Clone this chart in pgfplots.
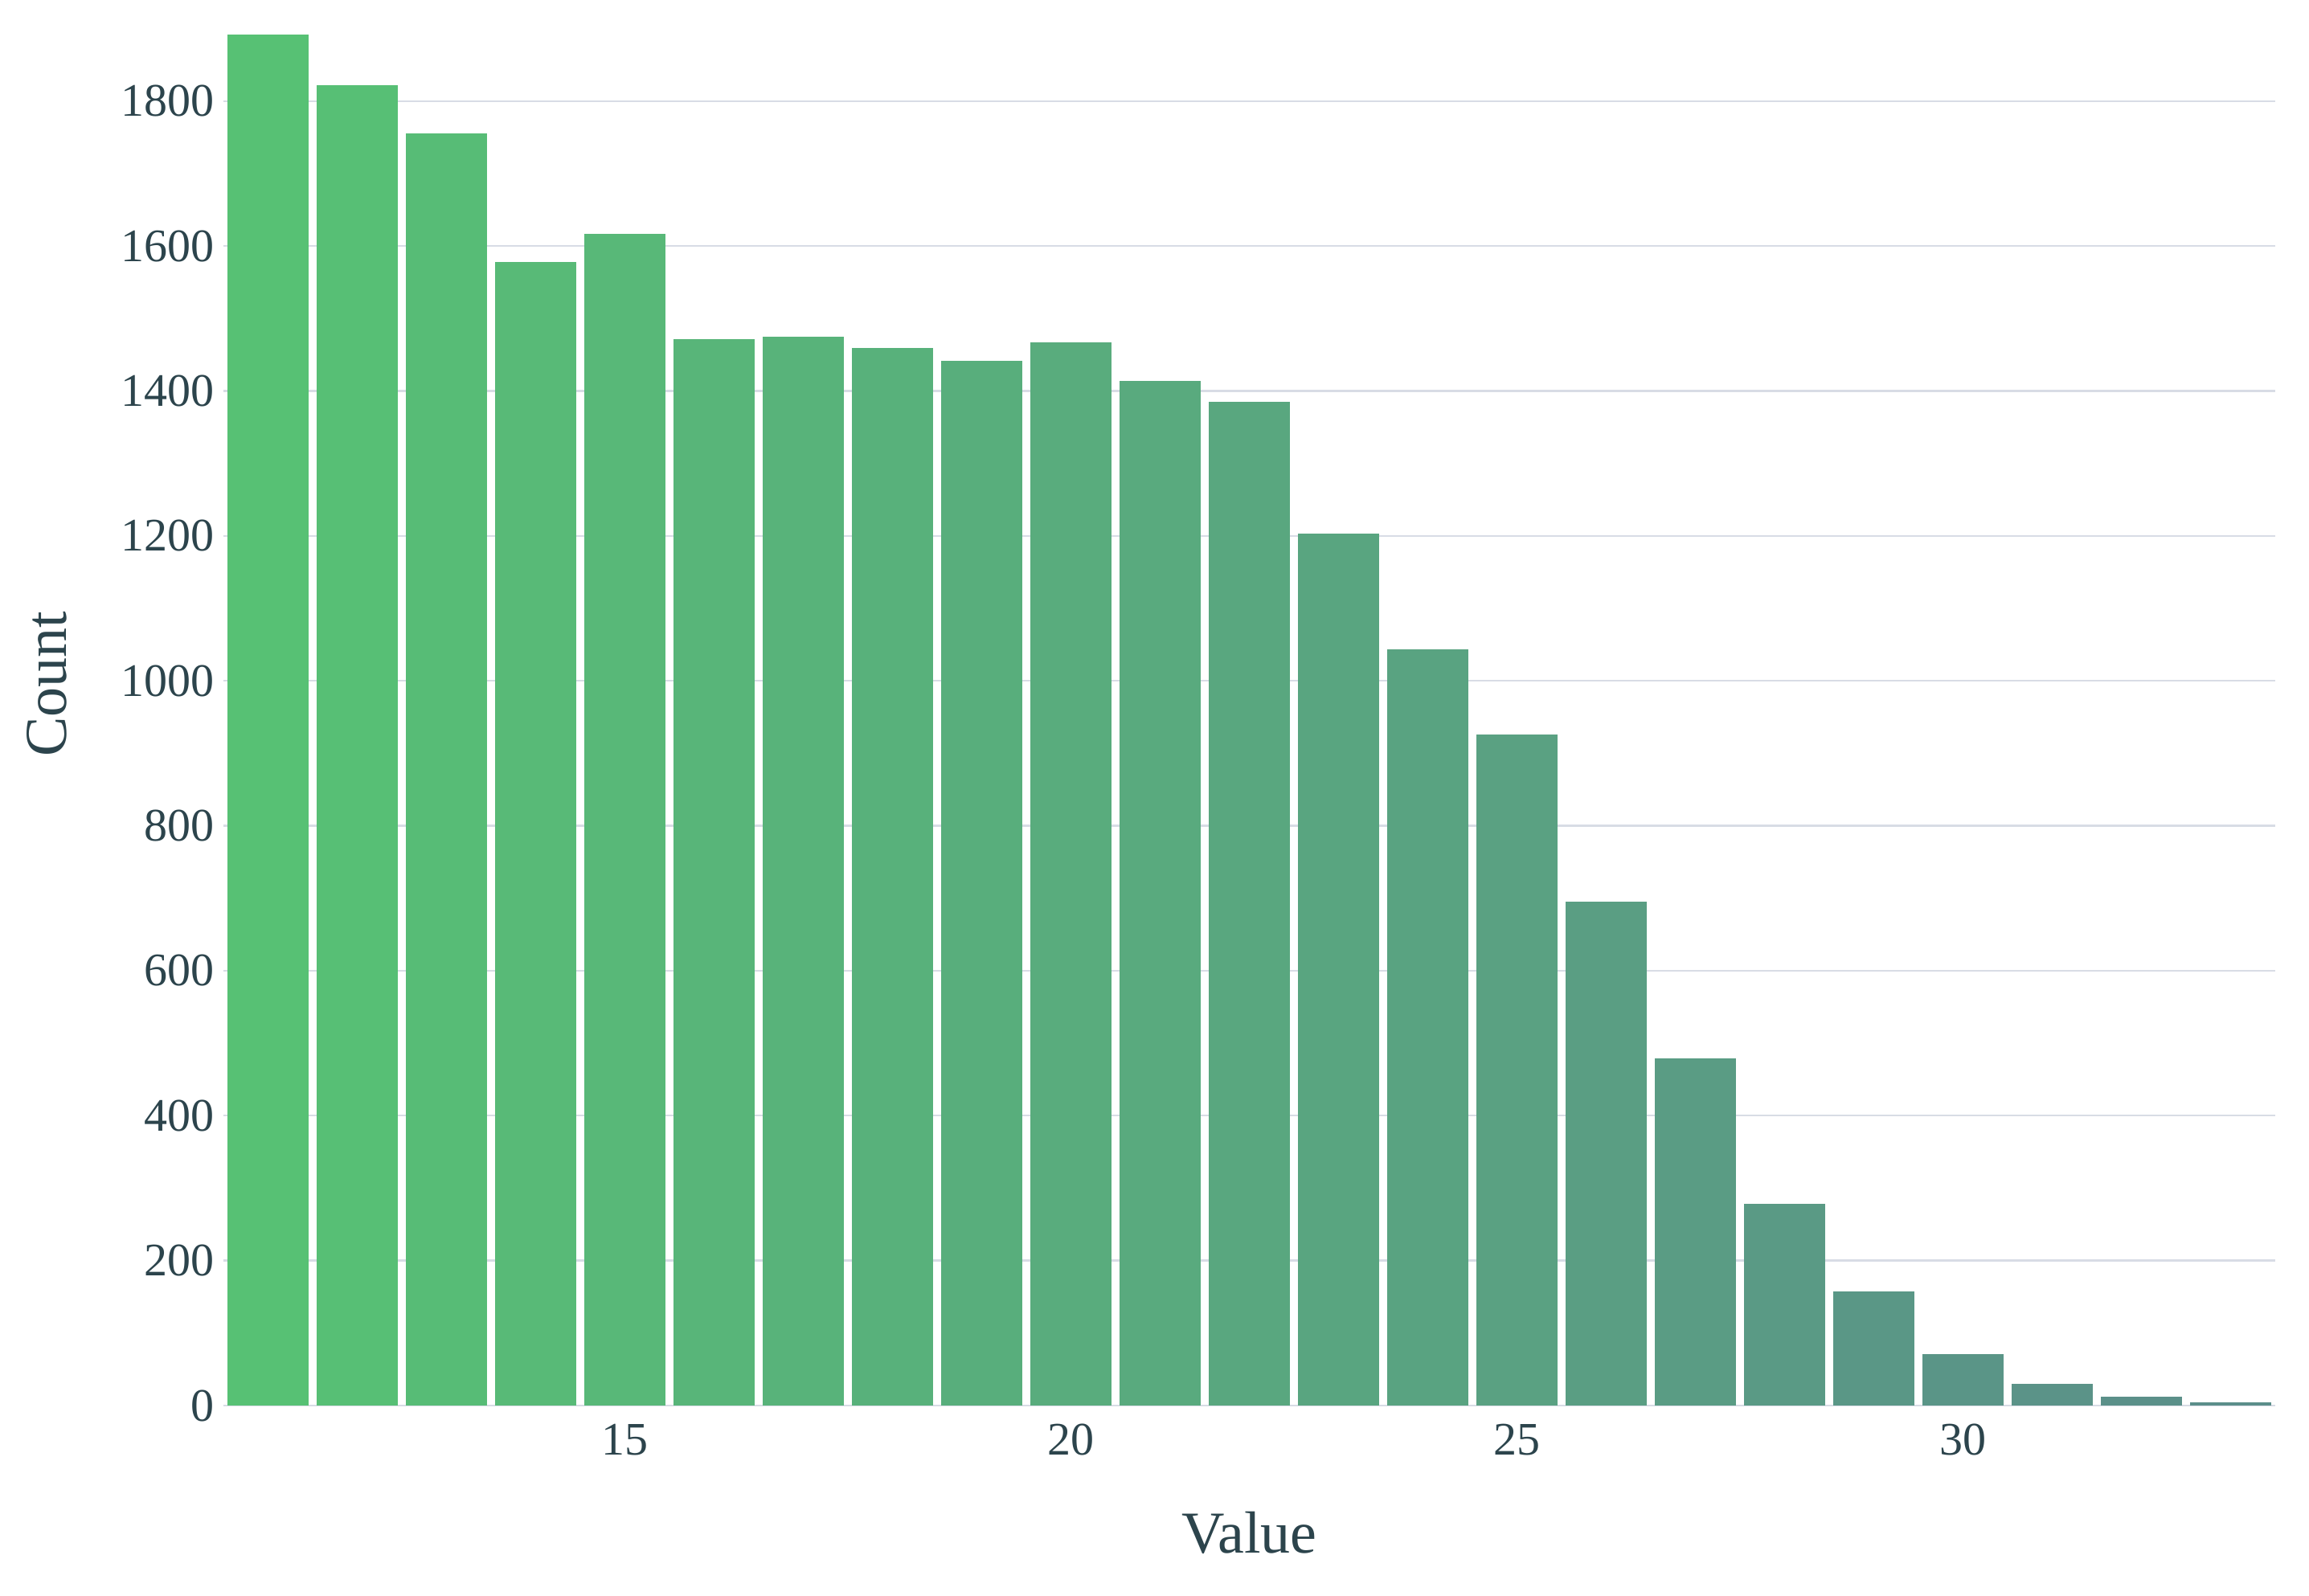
\documentclass[border=0pt]{standalone}
\usepackage{pgfplots}
\pgfplotsset{compat=1.18}
\usepackage{fontspec}
\setmainfont{Liberation Serif}
\definecolor{cA}{RGB}{87,193,116}
\definecolor{cB}{RGB}{91,142,138}
\definecolor{gridc}{RGB}{216,220,229}
\definecolor{txt}{RGB}{44,68,76}
\begin{document}
\begin{tikzpicture}
\useasboundingbox (0,0) rectangle (718.25bp,496.5bp);
\begin{axis}[
  at={(69.4bp,59.25bp)}, anchor=south west,
  scale only axis, width=638.35bp, height=437.25bp,
  xmin=10.5, xmax=33.5, ymin=0, ymax=1939.5,
  ybar, bar width=0.91, bar shift=0pt,
  axis line style={draw=none}, major tick length=0pt, tick style={draw=none},
  xtick={15,20,25,30},
  ytick={0,200,400,600,800,1000,1200,1400,1600,1800},
  ymajorgrids, grid style={color=gridc, line width=0.6bp},
  /pgf/number format/1000 sep={},
  /pgf/number format/assume math mode=true,
  ticklabel style={font=\fontsize{14.5bp}{17bp}\selectfont, text=txt},
  yticklabel style={anchor=east, inner sep=0pt, xshift=-2.5bp},
  xticklabel style={anchor=north, inner sep=0pt, yshift=-5.6bp},
  xlabel={Value}, ylabel={Count},
  label style={font=\fontsize{18.5bp}{22bp}\selectfont, text=txt, inner sep=0pt},
  xlabel style={at={(axis description cs:0.5,-0.1052)}, anchor=base},
  ylabel style={at={(axis description cs:-0.0766,0.5134)}, anchor=base},
  clip=false,
]
\addplot[fill=cB!0!cA, draw=none] coordinates {(11,1892)};
\addplot[fill=cB!4.5!cA, draw=none] coordinates {(12,1822)};
\addplot[fill=cB!9.1!cA, draw=none] coordinates {(13,1755)};
\addplot[fill=cB!13.6!cA, draw=none] coordinates {(14,1578)};
\addplot[fill=cB!18.2!cA, draw=none] coordinates {(15,1617)};
\addplot[fill=cB!22.7!cA, draw=none] coordinates {(16,1472)};
\addplot[fill=cB!27.3!cA, draw=none] coordinates {(17,1475)};
\addplot[fill=cB!31.8!cA, draw=none] coordinates {(18,1459)};
\addplot[fill=cB!36.4!cA, draw=none] coordinates {(19,1442)};
\addplot[fill=cB!40.9!cA, draw=none] coordinates {(20,1467)};
\addplot[fill=cB!45.5!cA, draw=none] coordinates {(21,1414)};
\addplot[fill=cB!50!cA, draw=none] coordinates {(22,1385)};
\addplot[fill=cB!54.5!cA, draw=none] coordinates {(23,1203)};
\addplot[fill=cB!59.1!cA, draw=none] coordinates {(24,1044)};
\addplot[fill=cB!63.6!cA, draw=none] coordinates {(25,926)};
\addplot[fill=cB!68.2!cA, draw=none] coordinates {(26,695)};
\addplot[fill=cB!72.7!cA, draw=none] coordinates {(27,479)};
\addplot[fill=cB!77.3!cA, draw=none] coordinates {(28,278)};
\addplot[fill=cB!81.8!cA, draw=none] coordinates {(29,157)};
\addplot[fill=cB!86.4!cA, draw=none] coordinates {(30,71)};
\addplot[fill=cB!90.9!cA, draw=none] coordinates {(31,30)};
\addplot[fill=cB!95.5!cA, draw=none] coordinates {(32,12)};
\addplot[fill=cB!100!cA, draw=none] coordinates {(33,4)};
\end{axis}
\end{tikzpicture}
\end{document}
